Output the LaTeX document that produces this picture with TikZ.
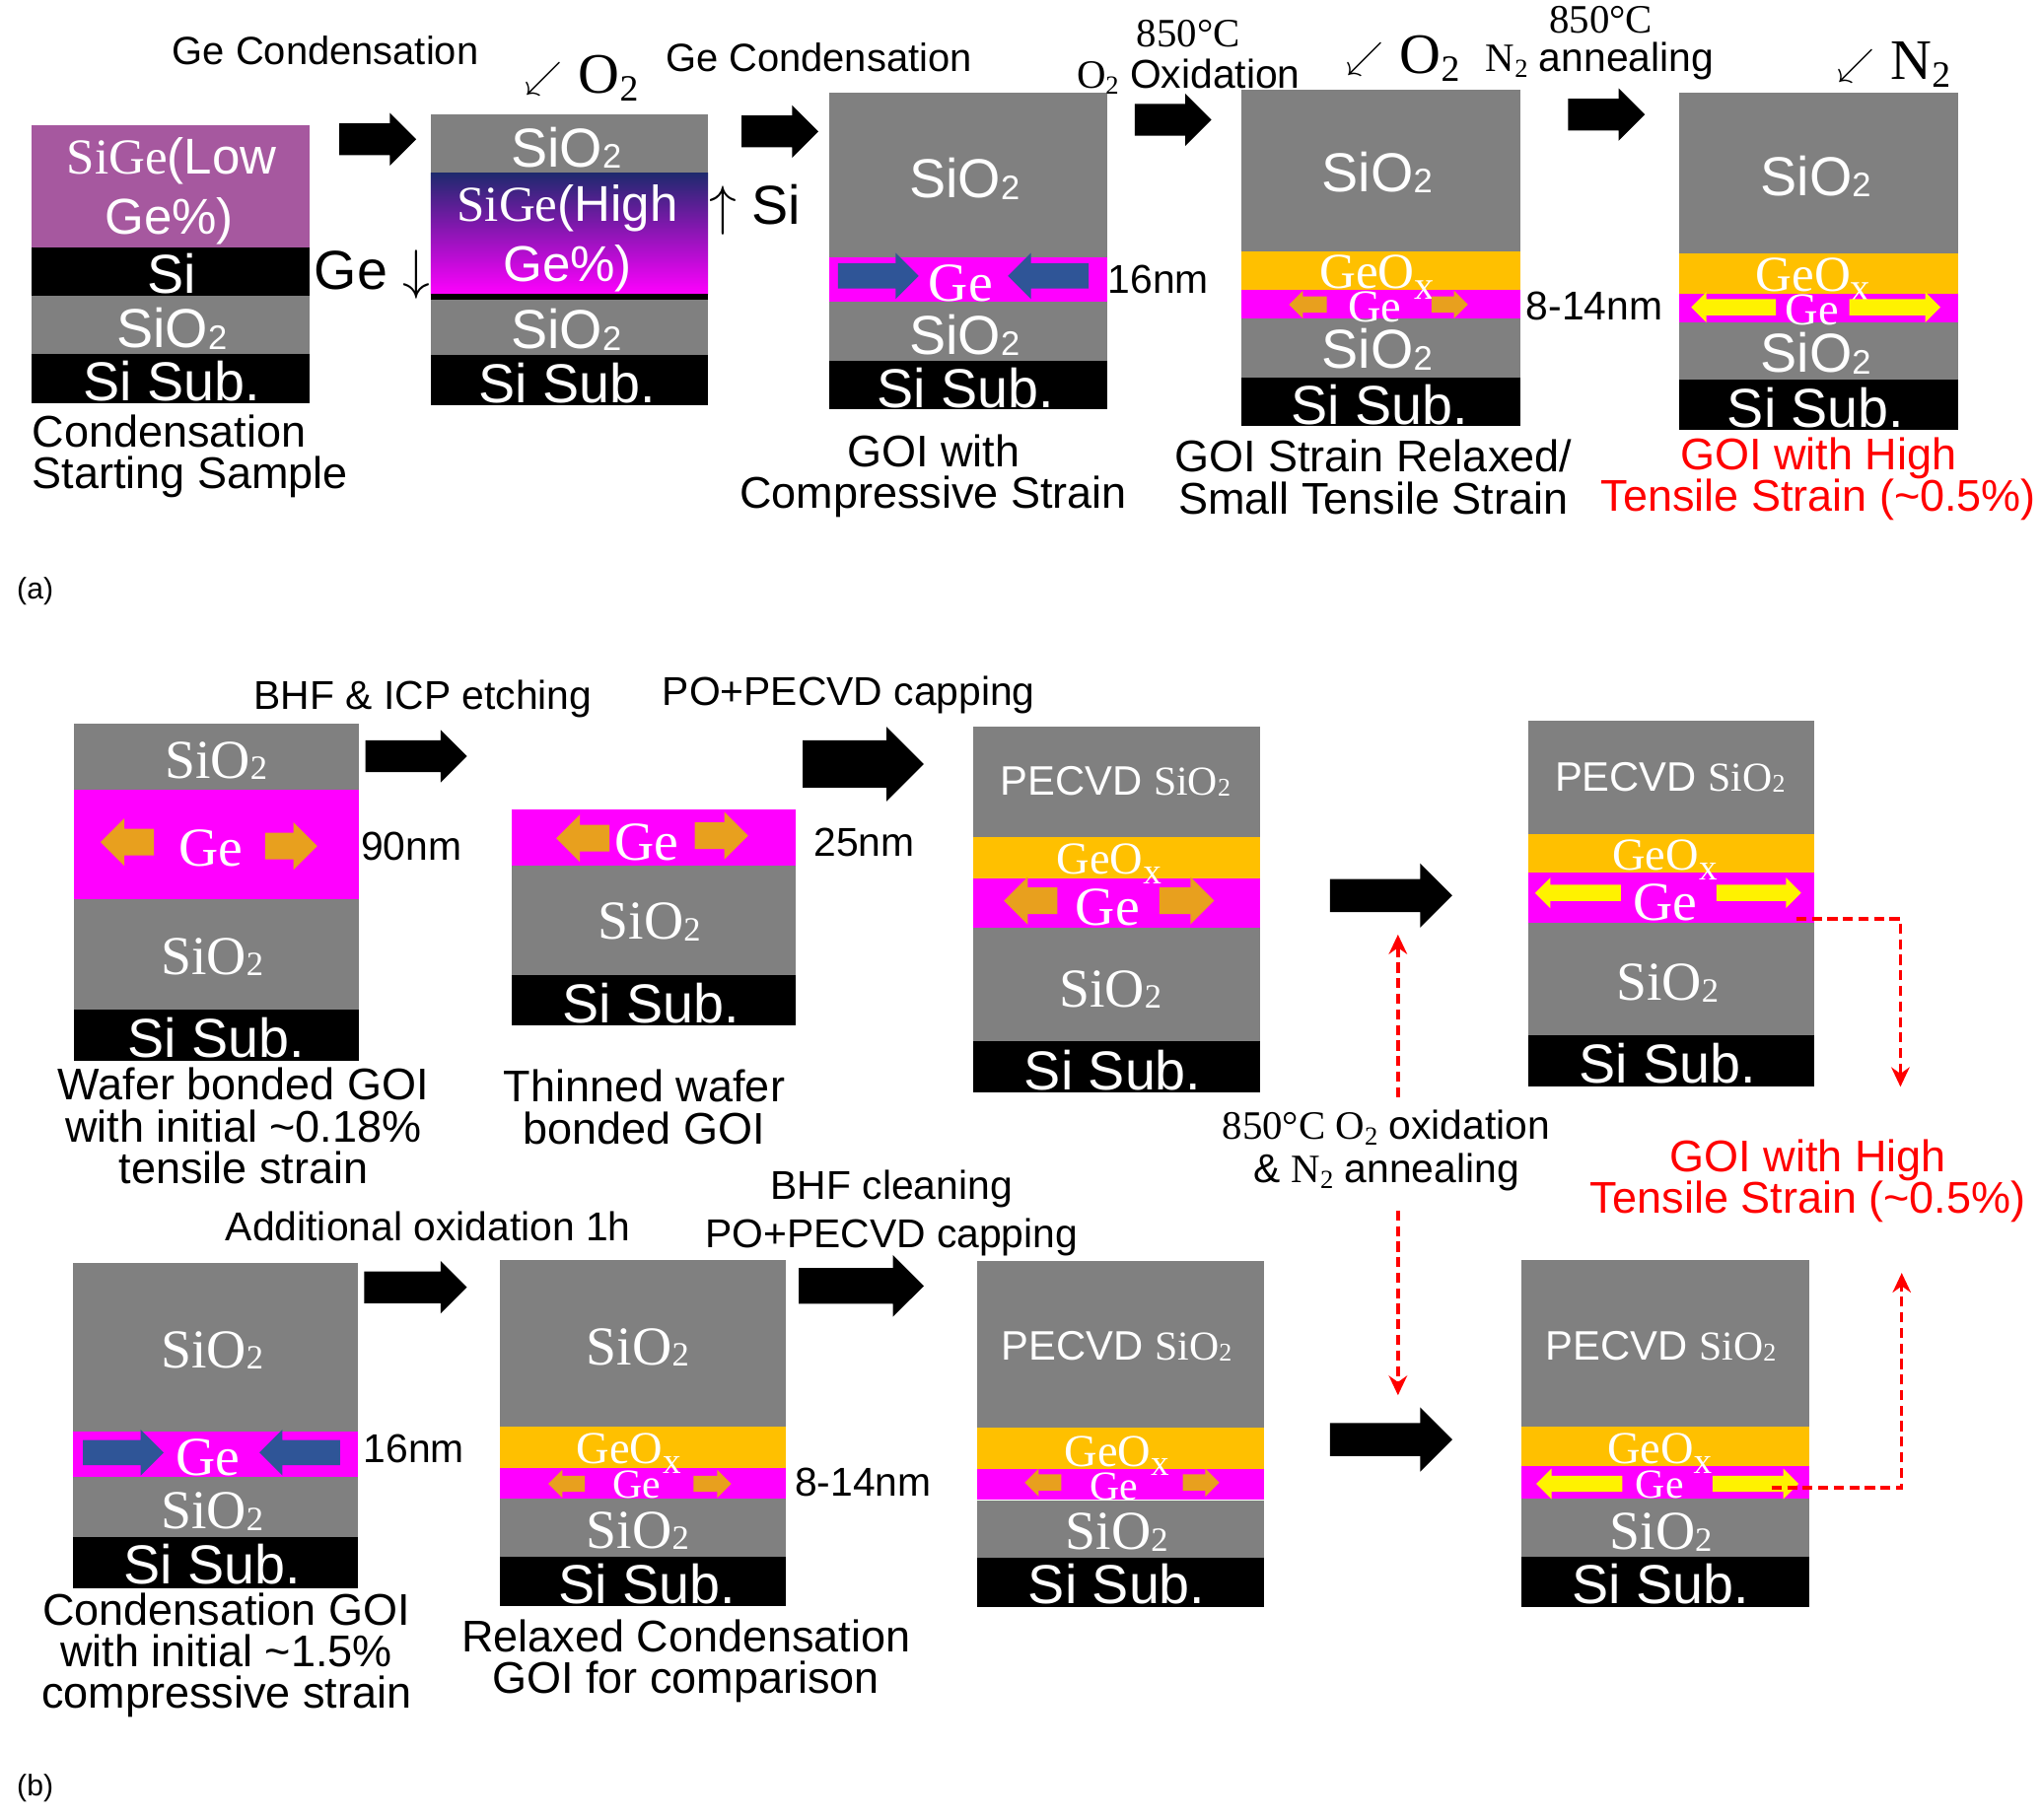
\documentclass[tikz,border=0pt]{standalone}
\usepackage{fontspec}
\setmainfont{Liberation Sans}
\newfontfamily\serfont{Liberation Serif}
\usetikzlibrary{arrows, arrows.meta, shapes.arrows}
\definecolor{oxgray}{HTML}{808080}
\definecolor{gegold}{HTML}{FFC000}
\definecolor{gepink}{HTML}{FF00FF}
\definecolor{lowpurple}{HTML}{A6589F}
\definecolor{highnavy}{HTML}{1F2A6E}
\definecolor{highviolet}{HTML}{7F149F}
\definecolor{compblue}{HTML}{2F5597}
\definecolor{relaxorg}{HTML}{E8A01E}
\newcommand{\lowsub}[1]{\raisebox{-.3ex}[0pt][0pt]{\scalebox{.65}{#1}}}
\newcommand{\flatsub}[1]{\raisebox{-.05ex}[0pt][0pt]{\scalebox{.62}{#1}}}
\newcommand{\sioA}{SiO\flatsub{2}}
\newcommand{\sioB}{{\serfont SiO\flatsub{2}}}
\newcommand{\geox}{{\serfont GeO\raisebox{-.45ex}[0pt][0pt]{\scalebox{.8}{x}}}}
\newcommand{\pecvd}{PECVD {\serfont\fontsize{9}{9}\selectfont SiO\flatsub{2}}}
\newcommand{\gasarrow}{\raisebox{.15ex}{\scalebox{.68}{$\swarrow$}}}
\newcommand{\gasO}{\gasarrow\ {\serfont O\lowsub{2}}}
\newcommand{\gasN}{\gasarrow\ {\serfont N\lowsub{2}}}
\tikzset{
  oxlay/.style={fill=oxgray},
  sublay/.style={fill=black},
  gelay/.style={fill=gepink},
  goxlay/.style={fill=gegold},
  wt/.style={text=white,inner sep=0pt,font=\fontsize{#1}{#1}\selectfont},
  wt/.default=12,
  wsr/.style={text=white,inner sep=0pt,font=\fontsize{#1}{#1}\selectfont\serfont},
  wsr/.default=12,
  capt/.style={inner sep=0pt,align=center,font=\fontsize{9.7}{9.1}\selectfont},
  redcapt/.style={capt,text=red},
  small/.style={inner sep=0pt,align=center,font=\fontsize{8.8}{9.4}\selectfont},
  gaslbl/.style={inner sep=0pt,font=\fontsize{12.5}{12.5}\selectfont},
  blockarr/.style={single arrow,anchor=tail,draw=none,inner xsep=0pt,minimum height=#1 mm},
  fatarr/.style={blockarr=#1,fill=black,inner ysep=1.15mm,single arrow head extend=.8mm},
  bluearr/.style={blockarr=#1,fill=compblue,inner ysep=.9mm,single arrow head extend=.8mm},
  orgarr/.style={blockarr=#1,fill=relaxorg,inner ysep=.55mm,single arrow head extend=.45mm},
  orgbig/.style={blockarr=#1,fill=relaxorg,inner ysep=.95mm,single arrow head extend=.8mm},
  yelarr/.style={blockarr=#1,fill=yellow,inner ysep=.55mm,single arrow head extend=.55mm},
  toleft/.style={shape border rotate=180},
  reddash/.style={red,line width=0.75pt,dash pattern=on 2.2pt off 1.2pt,->},
}
\begin{document}
\begin{tikzpicture}[x=0.1mm,y=-0.1mm,>={Stealth[length=1.5mm,width=1.4mm]}]
\useasboundingbox (0,0) rectangle (1568,1398);
\fill[white] (0,0) rectangle (1568,1398);
% panel a
\fill[fill=lowpurple] (24,96) rectangle (238,190);
\fill[sublay] (24,190) rectangle (238,227);
\fill[oxlay] (24,227) rectangle (238,272);
\fill[sublay] (24,272) rectangle (238,310);
\node[wt=11] (lowa) at (132,124) {{\serfont SiGe}(Low};
\node[wt=11] (lowb) at (130,170) {Ge\%)};
\node[wt] (sia) at (132,210) {Si};
\node[wt] (oxa) at (132,252) {\sioA};
\node[wt] (suba) at (132,293) {Si Sub.};
\node[capt,anchor=north west,align=left] (capa) at (24,318) {Condensation\\Starting Sample};
\node[small,font=\fontsize{8.6}{9}\selectfont] (conda) at (250,39) {Ge Condensation};
\node[fatarr=5.9] (arra) at (260,107) {};

\fill[oxlay] (331,88) rectangle (544,133);
\shade[top color=highnavy,middle color=highviolet,bottom color=gepink] (331,133) rectangle (544,226);
\fill[sublay] (331,226) rectangle (544,230);
\fill[oxlay] (331,230) rectangle (544,273);
\fill[sublay] (331,273) rectangle (544,311);
\node[wt] (oxb) at (435,113) {\sioA};
\node[wt=11] (higha) at (436,160) {{\serfont SiGe}(High};
\node[wt=11] (highb) at (436,206) {Ge\%)};
\node[wt] (oxc) at (435,253) {\sioA};
\node[wt] (subb) at (436,294) {Si Sub.};
\node[gaslbl] (gasa) at (447,58) {\gasO};
\node[inner sep=0pt,font=\fontsize{12}{12}\selectfont] (gedown) at (286,211) {Ge \raisebox{.05ex}{$\downarrow$}};
\node[inner sep=0pt,font=\fontsize{12}{12}\selectfont] (siup) at (580,161) {$\uparrow$ Si};
\node[small,font=\fontsize{8.6}{9}\selectfont] (condb) at (629,44) {Ge Condensation};
\node[fatarr=5.9] (arrb) at (569,101) {};

\fill[oxlay] (637,71) rectangle (851,198);
\fill[gelay] (637,198) rectangle (851,232);
\fill[oxlay] (637,232) rectangle (851,277);
\fill[sublay] (637,277) rectangle (851,314);
\node[wt] (oxd) at (741,137) {\sioA};
\node[bluearr=6.2] (blra) at (643,212) {};
\node[bluearr=6.2,toleft] (blla) at (837,212) {};
\node[wsr] (gea) at (738,218) {Ge};
\node[wt] (oxe) at (741,257) {\sioA};
\node[wt] (subc) at (742,298) {Si Sub.};
\node[capt] (capb) at (717,366) {GOI with\\Compressive Strain};
\node[small] (nma) at (890,215) {16nm};
\node[small] (tempa) at (913,26) {\serfont 850°C};
\node[small] (oxida) at (913,57) {{\serfont O\lowsub{2}} Oxidation};
\node[fatarr=5.9] (arrc) at (871,92) {};

\fill[oxlay] (954,69) rectangle (1168,193);
\fill[goxlay] (954,193) rectangle (1168,223);
\fill[gelay] (954,223) rectangle (1168,245);
\fill[oxlay] (954,245) rectangle (1168,290);
\fill[sublay] (954,290) rectangle (1168,327);
\node[wt] (oxf) at (1058,132) {\sioA};
\node[wsr=11] (gxa) at (1058,209) {\geox};
\node[orgarr=2.9,toleft] (olb) at (1020,234) {};
\node[orgarr=2.8] (orb) at (1099,234) {};
\node[wsr=10] (geb) at (1056,236) {Ge};
\node[wt] (oxg) at (1058,268) {\sioA};
\node[wt] (subd) at (1060,311) {Si Sub.};
\node[gaslbl] (gasb) at (1078,43) {\gasO};
\node[capt] (capc) at (1055,366.5) {GOI Strain Relaxed/\\Small Tensile Strain};
\node[small] (nmb) at (1225,235) {8-14nm};
\node[small] (tempb) at (1230,15) {\serfont 850°C};
\node[small] (anna) at (1229,47) {{\serfont N\lowsub{2}} annealing};
\node[fatarr=5.9] (arrd) at (1204,88) {};

\fill[oxlay] (1290,71) rectangle (1504,195);
\fill[goxlay] (1290,195) rectangle (1504,226);
\fill[gelay] (1290,226) rectangle (1504,248);
\fill[oxlay] (1290,248) rectangle (1504,292);
\fill[sublay] (1290,292) rectangle (1504,330);
\node[wt] (oxh) at (1395,135) {\sioA};
\node[wsr=11] (gxb) at (1393,211) {\geox};
\node[yelarr=6.5,toleft] (yla) at (1365,236) {};
\node[yelarr=7] (yra) at (1420,236) {};
\node[wsr=10] (gec) at (1392,238) {Ge};
\node[wt] (oxi) at (1395,271) {\sioA};
\node[wt] (sube) at (1395,313) {Si Sub.};
\node[gaslbl] (gasc) at (1455,48) {\gasN};
\node[redcapt] (capd) at (1397,368) {GOI with High\\Tensile Strain (\textasciitilde 0.5\%)};
\node[inner sep=0pt,font=\fontsize{6.5}{6.5}\selectfont] (tagA) at (27,454) {(a)};

% panel b, upper row
\fill[oxlay] (57,556) rectangle (276,607);
\fill[gelay] (57,607) rectangle (276,691);
\fill[oxlay] (57,691) rectangle (276,776);
\fill[sublay] (57,776) rectangle (276,815);
\node[wsr] (oxj) at (166,584) {\sioB};
\node[orgbig=4.1,toleft] (olc) at (119,647) {};
\node[orgbig=4] (orc) at (203,650) {};
\node[wsr] (ged) at (162,652) {Ge};
\node[wsr] (oxk) at (163,735) {\sioB};
\node[wt] (subf) at (166,797) {Si Sub.};
\node[capt] (cape) at (187,865) {Wafer bonded GOI\\with initial \textasciitilde 0.18\%\\tensile strain};
\node[small] (nmc) at (316,650) {90nm};
\node[small] (bhfa) at (325,537) {BHF \& ICP etching};
\node[fatarr=7.8] (arre) at (280,581) {};

\fill[gelay] (393,622) rectangle (611,665);
\fill[oxlay] (393,665) rectangle (611,749);
\fill[sublay] (393,749) rectangle (611,788);
\node[orgbig=4.1,toleft] (old) at (469,644) {};
\node[orgbig=4.1] (ord) at (533,642) {};
\node[wsr] (gee) at (497,647) {Ge};
\node[wsr] (oxl) at (499,708) {\sioB};
\node[wt] (subg) at (500,771) {Si Sub.};
\node[capt] (capf) at (495,850.5) {Thinned wafer\\bonded GOI};
\node[small] (nmd) at (664,647) {25nm};
\node[small] (cappa) at (652,534) {PO+PECVD capping};
\node[fatarr=9.3,inner ysep=1.75mm,single arrow head extend=1.05mm] (arrf) at (616,587) {};

\fill[oxlay] (748,558) rectangle (968,643);
\fill[goxlay] (748,643) rectangle (968,675);
\fill[gelay] (748,675) rectangle (968,713);
\fill[oxlay] (748,713) rectangle (968,800);
\fill[sublay] (748,800) rectangle (968,839);
\node[wt=9] (peca) at (857,600) {\pecvd};
\node[wsr=10] (gxc) at (852,660) {\geox};
\node[orgbig=4.1,toleft] (ole) at (813,692) {};
\node[orgbig=4.2] (ore) at (890,692) {};
\node[wsr] (gef) at (851,697) {Ge};
\node[wsr] (oxm) at (853,760) {\sioB};
\node[wt] (subh) at (855,822) {Si Sub.};
\node[fatarr=9.4,inner ysep=1.2mm,single arrow head extend=1.2mm] (arrg) at (1021,688) {};

\fill[oxlay] (1174,554) rectangle (1394,641);
\fill[goxlay] (1174,641) rectangle (1394,670);
\fill[gelay] (1174,670) rectangle (1394,709);
\fill[oxlay] (1174,709) rectangle (1394,795);
\fill[sublay] (1174,795) rectangle (1394,835);
\node[wt=9] (pecb) at (1283,597) {\pecvd};
\node[wsr=10] (gxd) at (1279,657) {\geox};
\node[yelarr=6.6,toleft] (ylb) at (1246,686) {};
\node[yelarr=6.5] (yrb) at (1318,686) {};
\node[wsr] (geg) at (1279,693) {Ge};
\node[wsr] (oxn) at (1281,755) {\sioB};
\node[wt] (subi) at (1281,817) {Si Sub.};

% panel b, lower row
\fill[oxlay] (56,970) rectangle (275,1100);
\fill[gelay] (56,1100) rectangle (275,1135);
\fill[oxlay] (56,1135) rectangle (275,1181);
\fill[sublay] (56,1181) rectangle (275,1220);
\node[wsr] (oxo) at (163,1037) {\sioB};
\node[bluearr=6.2] (blrb) at (63,1116) {};
\node[bluearr=6.2,toleft] (bllb) at (262,1116) {};
\node[wsr] (geh) at (160,1120) {Ge};
\node[wsr] (oxp) at (163,1161) {\sioB};
\node[wt] (subj) at (163,1202) {Si Sub.};
\node[capt] (capg) at (174,1271.5) {Condensation GOI\\with initial \textasciitilde 1.5\%\\compressive strain};
\node[small] (nme) at (318,1113) {16nm};
\node[small] (addox) at (329,942) {Additional oxidation 1h};
\node[fatarr=7.9] (arrh) at (279,989) {};

\fill[oxlay] (384,968) rectangle (604,1096);
\fill[goxlay] (384,1096) rectangle (604,1128);
\fill[gelay] (384,1128) rectangle (604,1151);
\fill[oxlay] (384,1151) rectangle (604,1196);
\fill[sublay] (384,1196) rectangle (604,1234);
\node[wsr] (oxq) at (490,1035) {\sioB};
\node[wsr=10] (gxe) at (483,1113) {\geox};
\node[orgarr=2.8,toleft] (olf) at (450,1140) {};
\node[orgarr=2.9] (orf) at (532,1140) {};
\node[wsr=9] (gei) at (489,1141) {Ge};
\node[wsr] (oxr) at (490,1176) {\sioB};
\node[wt] (subk) at (497,1217) {Si Sub.};
\node[capt] (caph) at (527,1276.5) {Relaxed Condensation\\GOI for comparison};
\node[small] (nmf) at (663,1139) {8-14nm};
\node[small,font=\fontsize{8.8}{10.7}\selectfont] (cappb) at (685,932) {BHF cleaning\\PO+PECVD capping};
\node[fatarr=9.6,inner ysep=1.3mm,single arrow head extend=1mm] (arri) at (613,988) {};

\fill[oxlay] (751,969) rectangle (971,1097);
\fill[goxlay] (751,1097) rectangle (971,1129);
\fill[gelay] (751,1129) rectangle (971,1152);
\fill[oxlay] (751,1153) rectangle (971,1197);
\fill[sublay] (751,1197) rectangle (971,1235);
\node[wt=9] (pecc) at (858,1034) {\pecvd};
\node[wsr=10] (gxf) at (858,1115) {\geox};
\node[orgarr=2.8,toleft] (olg) at (816,1139) {};
\node[orgarr=2.8] (org) at (908,1139) {};
\node[wsr=9] (gej) at (856,1142) {Ge};
\node[wsr] (oxs) at (858,1177) {\sioB};
\node[wt] (subl) at (858,1217) {Si Sub.};
\node[fatarr=9.4,inner ysep=1.2mm,single arrow head extend=1.2mm] (arrj) at (1021,1106) {};

\fill[oxlay] (1169,968) rectangle (1390,1096);
\fill[goxlay] (1169,1096) rectangle (1390,1126);
\fill[gelay] (1169,1126) rectangle (1390,1151);
\fill[oxlay] (1169,1151) rectangle (1390,1196);
\fill[sublay] (1169,1196) rectangle (1390,1235);
\node[wt=9] (pecd) at (1276,1034) {\pecvd};
\node[wsr=10] (gxg) at (1275,1113) {\geox};
\node[yelarr=6.6,toleft] (ylc) at (1247,1140) {};
\node[yelarr=6.6] (yrc) at (1315,1140) {};
\node[wsr=9] (gek) at (1275,1141) {Ge};
\node[wsr] (oxt) at (1276,1177) {\sioB};
\node[wt] (subm) at (1276,1217) {Si Sub.};

\node[small] (anneal) at (1065,884) {{\serfont 850°C O\lowsub{2}} oxidation\\\& {\serfont N\lowsub{2}} annealing};
\node[redcapt] (capi) at (1389,907.5) {GOI with High\\Tensile Strain (\textasciitilde 0.5\%)};
\node[inner sep=0pt,font=\fontsize{6.5}{6.5}\selectfont] (tagB) at (27,1374) {(b)};

\coordinate (upA) at (1074,843);
\coordinate (upB) at (1074,718);
\coordinate (dnA) at (1074,930);
\coordinate (dnB) at (1074,1072);
\coordinate (hiA) at (1380,706);
\coordinate (hiB) at (1460,835);
\coordinate (loA) at (1361,1143);
\coordinate (loB) at (1461,978);
\draw[reddash] (upA) -- (upB);
\draw[reddash] (dnA) -- (dnB);
\draw[reddash] (hiA) -| (hiB);
\draw[reddash] (loA) -| (loB);
\end{tikzpicture}
\end{document}
